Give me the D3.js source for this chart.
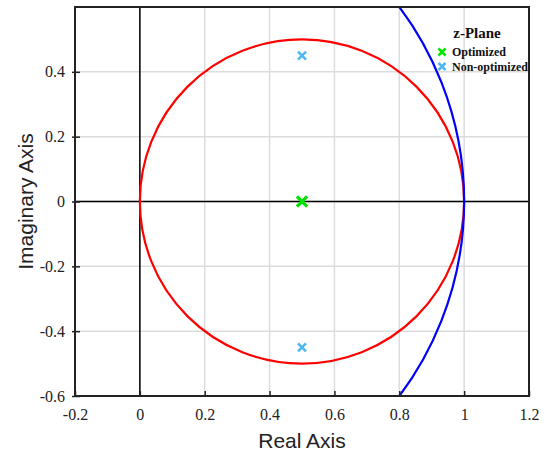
<!DOCTYPE html>
<html>
<head>
<meta charset="utf-8">
<script src="https://cdn.jsdelivr.net/npm/d3@7"></script>
<style>
  body { margin: 0; background: #fff; }
  svg { display: block; }
</style>
</head>
<body>
<div id="chart"></div>
<script>
// Axis ticks
const X_TICKS = [-0.2, 0, 0.2, 0.4, 0.6, 0.8, 1, 1.2];
const Y_TICKS = [-0.6, -0.4, -0.2, 0, 0.2, 0.4];

// Poles
const OPTIMIZED = [{re: 0.5, im: 0}, {re: 0.5, im: 0}];
const NON_OPTIMIZED = [{re: 0.5, im: 0.45}, {re: 0.5, im: -0.45}];

// Circles: center + radius
const CIRCLES = [
  {cx: 0.5, cy: 0, r: 0.5, color: "#ff0000"},
  {cx: 0, cy: 0, r: 1, color: "#0000ff"}
];

const LEGEND = [
  {label: "Optimized", color: "#00e600"},
  {label: "Non-optimized", color: "#4db8ee"}
];

const FRAME_WIDTH = 550;
const FRAME_HEIGHT = 458;
const MARGINS = {left: 75, right: 21, top: 7, bottom: 62};
const VIS_WIDTH = FRAME_WIDTH - MARGINS.left - MARGINS.right;
const VIS_HEIGHT = FRAME_HEIGHT - MARGINS.top - MARGINS.bottom;

const svg = d3.select("#chart")
  .append("svg")
    .attr("width", FRAME_WIDTH)
    .attr("height", FRAME_HEIGHT);

const X_SCALE = d3.scaleLinear().domain([-0.2, 1.2]).range([0, VIS_WIDTH]);
const Y_SCALE = d3.scaleLinear().domain([-0.6, 0.6]).range([VIS_HEIGHT, 0]);

svg.append("defs").append("clipPath").attr("id", "clip")
  .append("rect").attr("width", VIS_WIDTH).attr("height", VIS_HEIGHT);

const g = svg.append("g")
  .attr("transform", "translate(" + MARGINS.left + "," + MARGINS.top + ")");

// grid
g.selectAll(".vgrid").data(X_TICKS).enter().append("line")
  .attr("x1", d => X_SCALE(d)).attr("x2", d => X_SCALE(d))
  .attr("y1", 0).attr("y2", VIS_HEIGHT)
  .attr("stroke", "#dcdcdc").attr("stroke-width", 1.5);
g.selectAll(".hgrid").data(Y_TICKS).enter().append("line")
  .attr("y1", d => Y_SCALE(d)).attr("y2", d => Y_SCALE(d))
  .attr("x1", 0).attr("x2", VIS_WIDTH)
  .attr("stroke", "#dcdcdc").attr("stroke-width", 1.5);

// zero lines
g.append("line")
  .attr("x1", X_SCALE(0)).attr("x2", X_SCALE(0))
  .attr("y1", 0).attr("y2", VIS_HEIGHT)
  .attr("stroke", "#000").attr("stroke-width", 1.5);
g.append("line")
  .attr("y1", Y_SCALE(0)).attr("y2", Y_SCALE(0))
  .attr("x1", 0).attr("x2", VIS_WIDTH)
  .attr("stroke", "#000").attr("stroke-width", 1.5);

// circles
g.append("g").attr("clip-path", "url(#clip)")
  .selectAll("ellipse").data(CIRCLES).enter().append("ellipse")
    .attr("cx", d => X_SCALE(d.cx))
    .attr("cy", d => Y_SCALE(d.cy))
    .attr("rx", d => X_SCALE(d.cx + d.r) - X_SCALE(d.cx))
    .attr("ry", d => Y_SCALE(d.cy) - Y_SCALE(d.cy + d.r))
    .attr("fill", "none")
    .attr("stroke", d => d.color)
    .attr("stroke-width", 2.2);

// x markers
function cross(sel, x, y, s, color, w) {
  sel.append("path")
    .attr("d", "M" + (x - s) + "," + (y - s) + "L" + (x + s) + "," + (y + s) +
               "M" + (x - s) + "," + (y + s) + "L" + (x + s) + "," + (y - s))
    .attr("stroke", color).attr("stroke-width", w).attr("fill", "none");
}
NON_OPTIMIZED.forEach(p => cross(g, X_SCALE(p.re), Y_SCALE(p.im), 4, LEGEND[1].color, 2.5));
OPTIMIZED.forEach(p => cross(g, X_SCALE(p.re), Y_SCALE(p.im), 5, LEGEND[0].color, 3));

// axes
const xAxis = g.append("g")
  .attr("transform", "translate(0," + VIS_HEIGHT + ")")
  .call(d3.axisBottom(X_SCALE).tickValues(X_TICKS).tickSize(-5).tickPadding(10)
    .tickFormat(d => String(d)));
const yAxis = g.append("g")
  .call(d3.axisLeft(Y_SCALE).tickValues(Y_TICKS).tickSize(-5).tickPadding(10)
    .tickFormat(d => String(d)));
[xAxis, yAxis].forEach(a => {
  a.select(".domain").remove();
  a.selectAll("line").attr("stroke", "#222").attr("stroke-width", 1.5);
  a.selectAll("text")
    .attr("font-family", "'Liberation Serif', 'Times New Roman', serif")
    .attr("font-size", 16).attr("fill", "#222");
});
yAxis.selectAll(".tick line").attr("x1", -3);
xAxis.selectAll("text").attr("dy", "0.85em");

// frame
g.append("rect")
  .attr("width", VIS_WIDTH).attr("height", VIS_HEIGHT)
  .attr("fill", "none").attr("stroke", "#222").attr("stroke-width", 2);

// axis labels
svg.append("text")
  .attr("x", MARGINS.left + VIS_WIDTH / 2).attr("y", 448)
  .attr("text-anchor", "middle")
  .attr("font-family", "'Liberation Sans', Arial, sans-serif")
  .attr("font-size", 21).attr("fill", "#222")
  .text("Real Axis");
svg.append("text")
  .attr("transform", "translate(33," + (MARGINS.top + VIS_HEIGHT / 2) + ") rotate(-90)")
  .attr("text-anchor", "middle")
  .attr("font-family", "'Liberation Sans', Arial, sans-serif")
  .attr("font-size", 21).attr("fill", "#222")
  .text("Imaginary Axis");

// legend
const lg = svg.append("g").attr("font-family", "'Liberation Serif', 'Times New Roman', serif")
  .attr("font-weight", "bold");
lg.append("text").attr("x", 477).attr("y", 38).attr("text-anchor", "middle")
  .attr("font-size", 15).attr("fill", "#111").text("z-Plane");
LEGEND.forEach((d, i) => {
  const y = 52 + i * 14.5;
  cross(lg, 442, y, 3.5, d.color, 2.5);
  lg.append("text").attr("x", 452).attr("y", y + 4).attr("font-size", 12)
    .attr("fill", "#111").text(d.label);
});
</script>
</body>
</html>
